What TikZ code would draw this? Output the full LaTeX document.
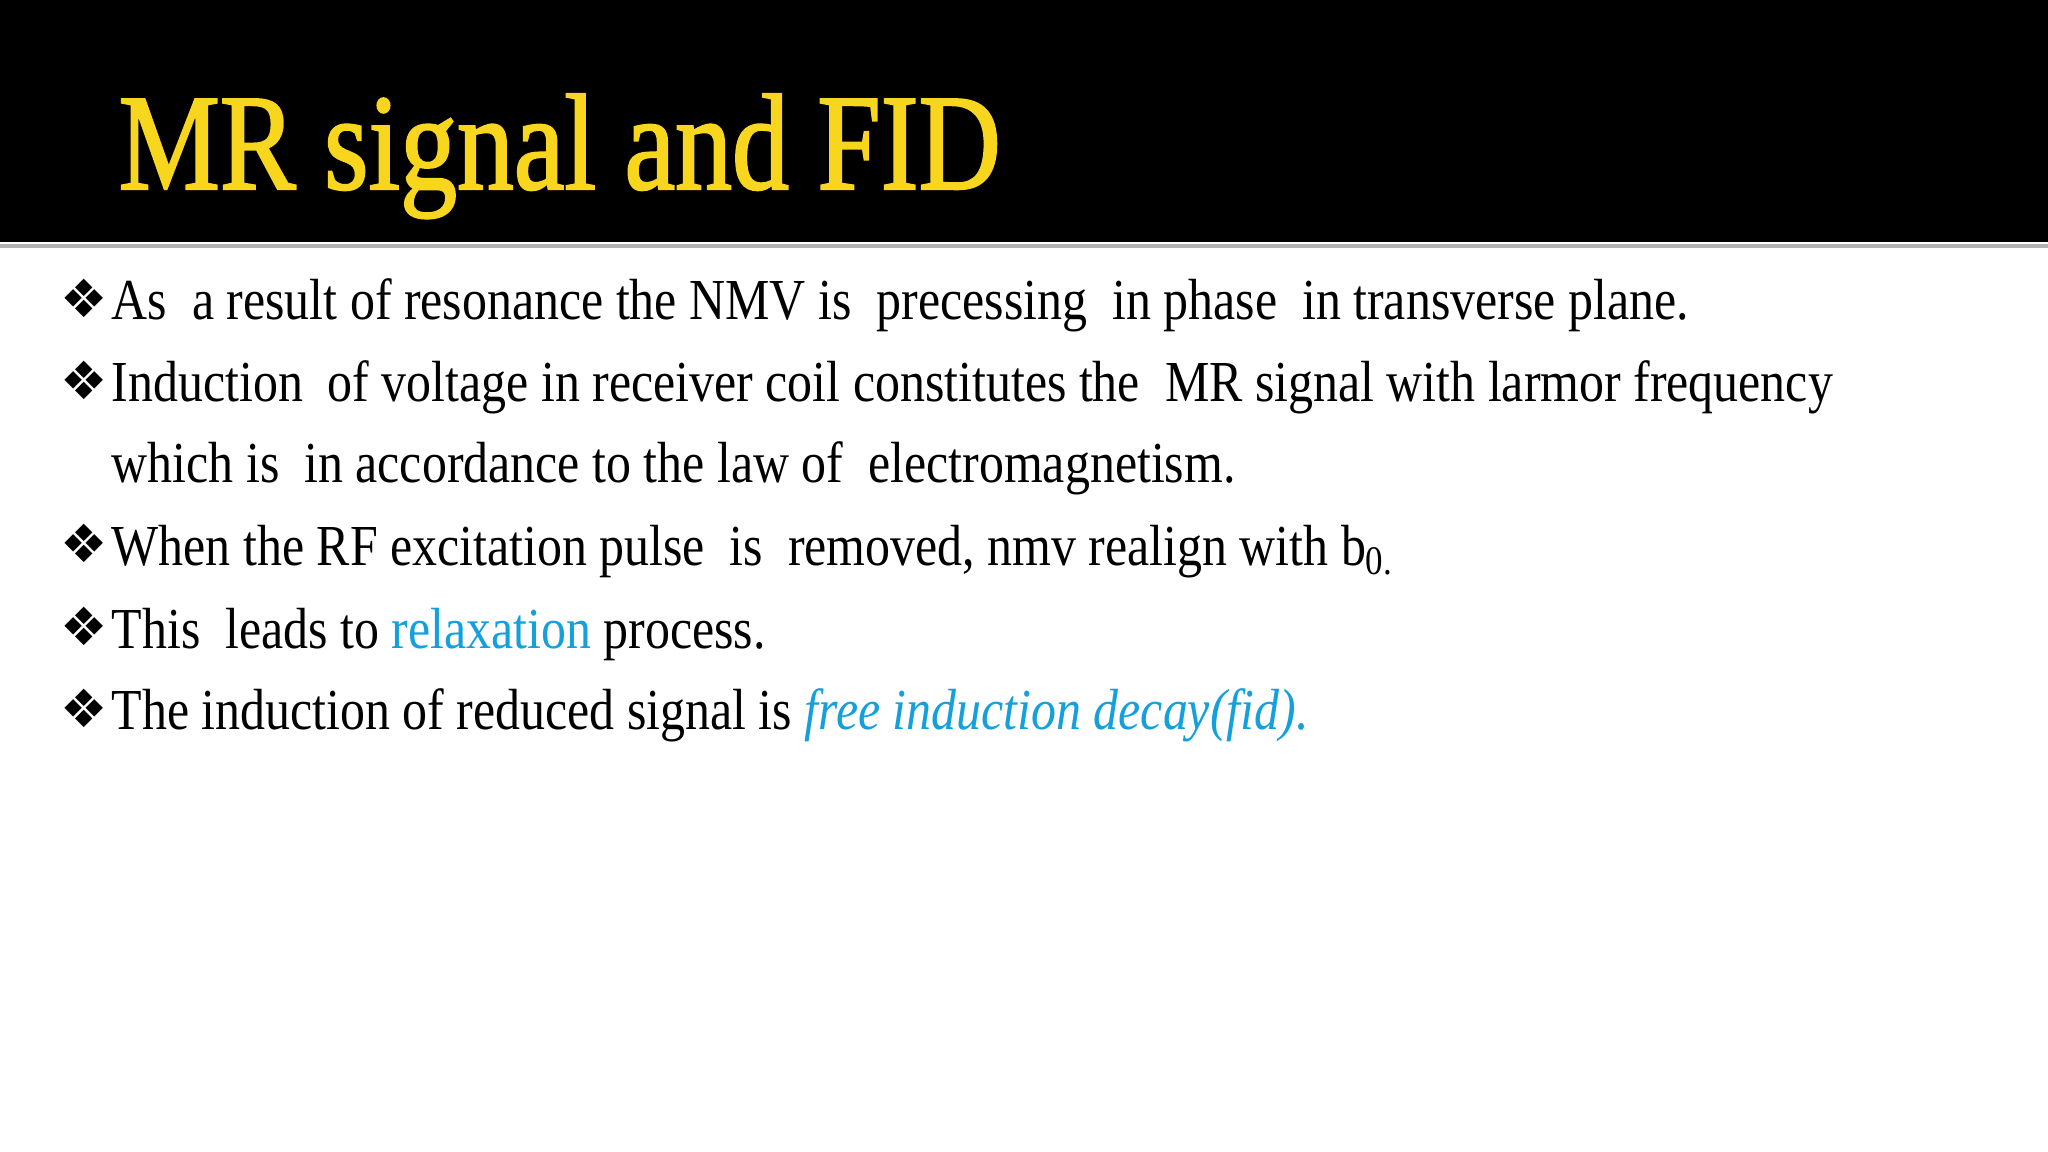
\documentclass[tikz,border=0pt]{standalone}
\usepackage{fontspec}
\setmainfont[FakeStretch=0.86]{Liberation Serif}
\newfontfamily\titlefont[FakeStretch=0.83,FakeBold=1.5]{Liberation Serif}
\newfontfamily\symfont{DejaVu Sans}
\definecolor{titleyellow}{RGB}{248,214,30}
\definecolor{linkcyan}{RGB}{20,160,220}
\tikzset{
  bodytext/.style={anchor=base west, inner sep=0pt, font=\fontsize{16.5}{20}\selectfont},
  bulletmark/.style={anchor=base west, inner sep=0pt, font=\symfont\fontsize{15}{18}\selectfont}
}
\begin{document}
\begin{tikzpicture}[x=0.01cm,y=-0.01cm]
\useasboundingbox (0,0) rectangle (2048,1152);
\fill[white] (0,0) rectangle (2048,1152);
\fill[black] (0,0) rectangle (2048,242);
\fill[gray!60] (0,244) rectangle (2048,248);
\node[anchor=base west, inner sep=0pt, text=titleyellow, font=\titlefont\fontsize{39}{44}\selectfont] (title) at (118,189) {MR signal and FID};
\node[bulletmark] (b1) at (60,318) {❖};
\node[bodytext] (t1) at (111,320) {As\ \ a result of resonance the NMV is\ \ precessing\ \ in phase\ \ in transverse plane.};
\node[bulletmark] (b2) at (60,400) {❖};
\node[bodytext] (t2) at (111,402) {Induction\ \ of voltage in receiver coil constitutes the\ \ MR signal with larmor frequency};
\node[bodytext] (t2b) at (111,483) {which is\ \ in accordance to the law of\ \ electromagnetism.};
\node[bulletmark] (b3) at (60,563) {❖};
\node[bodytext] (t3) at (111,565) {When the RF excitation pulse\ \ is\ \ removed, nmv realign with b\textsubscript{0.}};
\node[bulletmark] (b4) at (60,646) {❖};
\node[bodytext] (t4) at (111,648) {This\ \ leads to \textcolor{linkcyan}{relaxation} process.};
\node[bulletmark] (b5) at (60,727) {❖};
\node[bodytext] (t5) at (111,729) {The induction of reduced signal is \textcolor{linkcyan}{\itshape free induction decay(fid).}};
\end{tikzpicture}
\end{document}
